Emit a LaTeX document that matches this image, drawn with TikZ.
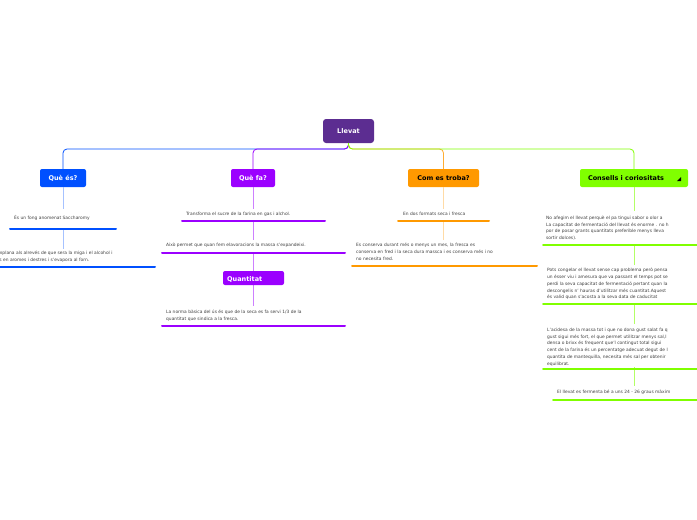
\documentclass[tikz,border=0pt]{standalone}
\usepackage{fontspec}
\setmainfont{DejaVu Sans}
\begin{document}
\begin{tikzpicture}[x=1pt,y=-1pt,
  hdr/.style={rounded corners=2pt,text=white,font=\fontsize{6.5}{7}\selectfont\bfseries,inner sep=0pt},
  txt/.style={font=\fontsize{4.4}{6.8}\selectfont,text=black!75,anchor=west,align=left,inner sep=0pt},
  ul/.style={line width=2pt,line cap=round},
  cn/.style={line width=0.8pt}]
\useasboundingbox (0,0) rectangle (697,520);
\begin{scope}
\clip (0,0) rectangle (697,520);
\definecolor{cP}{HTML}{5C2D91}\definecolor{cB}{HTML}{0050FF}\definecolor{cV}{HTML}{9B00FF}
\definecolor{cO}{HTML}{FF9900}\definecolor{cG}{HTML}{80FF00}
% root
\fill[cP,rounded corners=3pt] (323,119) rectangle (374,143);
\node[hdr] (root) at (348.5,131) {Llevat};
\coordinate (rb) at (348.5,143);
% headers
\fill[cB,rounded corners=2pt] (40,169) rectangle (86,187); \node[hdr] (h1) at (63,178) {Què és?};
\fill[cV,rounded corners=2pt] (231,169) rectangle (275,187); \node[hdr] (h2) at (253,178) {Què fa?};
\fill[cO,rounded corners=2pt] (408,169) rectangle (479,187); \node[hdr,text=black] (h3) at (443.5,178) {Com es troba?};
\fill[cG,rounded corners=2pt] (580,169) rectangle (688,187); \node[hdr,text=black] (h4) at (626,178) {Consells i coriositats};
\fill[black] (677,181) -- (681,177) -- (681,181) -- cycle;
\coordinate (t1) at (63,169);\coordinate (t2) at (253,169);\coordinate (t3) at (443.5,169);\coordinate (t4) at (634,169);
\draw[cn,cB,rounded corners=4pt] (rb) -- (348.5,149) -| (t1);
\draw[cn,cV,rounded corners=4pt] (rb) -- (348.5,149) -| (t2);
\draw[cn,cO!80,rounded corners=4pt] (rb) -- (348.5,149) -| (t3);
\draw[cn,cG,rounded corners=4pt] (rb) -- (348.5,149) -| (t4);
% column 1
\draw[cn,cB!35] (63,187) -- (63,209); \draw[cn,cB!35] (63,229) -- (63,249);
\node[txt] (a1) at (14,218) {És un fong anomenat Saccharomy};
\draw[ul,cB] (10,229) -- (116,229);
\node[txt] (a2) at (-2,256.5) {mplana als alrevés de que sera la miga i el alcohol i\\is en aromes i destres i s'evapora al forn.};
\draw[ul,cB] (-5,267) -- (155,267);
% column 2
\draw[cn,cV!50] (253,187) -- (253,209); \draw[cn,cV!50] (253,221) -- (253,240);
\draw[cn,cV!50] (253,253) -- (253,271); \draw[cn,cV!50] (253,285) -- (253,306);
\node[txt] (b1) at (186,214) {Transforma el sucre de la farina en gas i alchol.};
\draw[ul,cV] (182,221) -- (325,221);
\node[txt] (b2) at (166,245) {Això permet que quan fem elavoracions la massa s'expandeixi.};
\draw[ul,cV] (162,253) -- (345,253);
\fill[cV,rounded corners=2pt] (223,271) rectangle (284,285);
\node[hdr,anchor=west] (q) at (227,279) {Quantitat};
\node[txt] (b3) at (166,315.5) {La norma bàsica del ús  és que de la seca es fa servi 1/3 de la\\quantitat que sindica a la fresca.};
\draw[ul,cV] (162,326) -- (345,326);
% column 3
\draw[cn,cO!35] (443.5,187) -- (443.5,209); \draw[cn,cO!35] (443.5,221) -- (443.5,240);
\node[txt] (c1) at (403,214) {En dos formats seca  i fresca};
\draw[ul,cO] (398,221) -- (489,221);
\node[txt] (c2) at (356,252) {Es conserva durant més o menys un mes,  la fresca es\\conserva en fred i la seca dura massca i es  conserva més i no\\no necesita fred.};
\draw[ul,cO] (352,266) -- (537,266);
% column 4
\draw[cn,cG!60] (634,187) -- (634,211); \draw[cn,cG!60] (634,245) -- (634,265);
\draw[cn,cG!60] (634,304) -- (634,324); \draw[cn,cG!60] (634,367) -- (634,386);
\node[txt] (d1) at (546,228) { No afegim el llevat perquè el pa tingui sabor o olor a\\La capacitat de fermentació del llevat és enorme . no h\\por de posar grants quantitats preferible menys lleva\\sortir dolces).};
\draw[ul,cG] (543,245) -- (700,245);
\node[txt] (d2) at (547,284) {Pots congelar el llevat sense cap problema però pensa\\un ésser viu i amesura que va passant el temps pot se\\perdi la seva capacitat de fermentació pertant quan la\\descongelis n' hauras d'utilitzar més cuantitat.Aquest\\és valid quan s'acosta a la seva data de caducitat};
\draw[ul,cG] (543,304) -- (700,304);
\node[txt] (d3) at (547,347) {L'acidesa de la massa tot i que no dona gust salat fa q\\gust sigui més fort, el que permet utilitzar menys sal,l\\densa  o brixx és frequent  que'l contingut total sigui\\cent de la farina és un percentatge adecuat degut de l\\quantita de mantequilla, necesita més sal per obtenir\\equilibrat.};
\draw[ul,cG] (543,369) -- (700,369);
\node[txt] (d4) at (557,392) {El llevat es fermenta bé a uns 24 - 26 graus màxim};
\draw[ul,cG] (553,400) -- (700,400);
\end{scope}
\end{tikzpicture}
\end{document}
